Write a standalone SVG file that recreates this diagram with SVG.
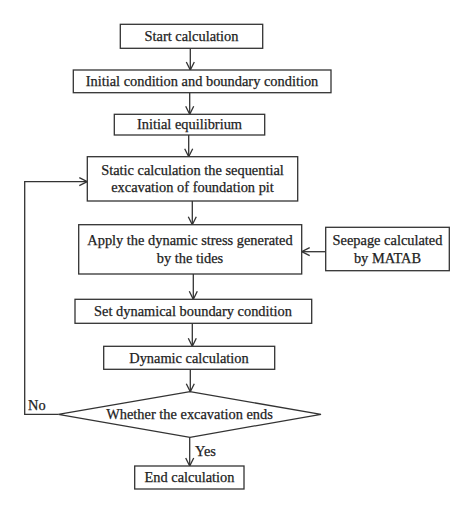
<svg xmlns="http://www.w3.org/2000/svg" width="474" height="514" viewBox="0 0 474 514">
<defs>
<style>
.b{fill:#fff;stroke:#333;stroke-width:1.3}
.t{font-family:"Liberation Serif","Times New Roman",serif;font-size:14.4px;fill:#222;stroke:#222;stroke-width:0.25;text-anchor:middle}
.l{font-family:"Liberation Serif","Times New Roman",serif;font-size:14.4px;fill:#222;stroke:#222;stroke-width:0.25}
.c{fill:none;stroke:#333;stroke-width:1.3}
</style>
<marker id="a" viewBox="0 0 10 10" refX="10" refY="5" markerWidth="10" markerHeight="10" markerUnits="userSpaceOnUse" orient="auto">
<polyline points="2,1 10,5 2,9" fill="none" stroke="#333" stroke-width="1.3"/>
</marker>
</defs>
<rect width="474" height="514" fill="#fff"/>
<g id="connectors">
<line class="c" x1="190.3" y1="48.3" x2="190.3" y2="70" marker-end="url(#a)"/>
<line class="c" x1="189.7" y1="92.7" x2="189.7" y2="114.3" marker-end="url(#a)"/>
<line class="c" x1="188.7" y1="135" x2="188.7" y2="156.7" marker-end="url(#a)"/>
<line class="c" x1="192.3" y1="201" x2="192.3" y2="224.7" marker-end="url(#a)"/>
<line class="c" x1="193.3" y1="274" x2="193.3" y2="299.3" marker-end="url(#a)"/>
<line class="c" x1="192.3" y1="323.3" x2="192.3" y2="346.3" marker-end="url(#a)"/>
<line class="c" x1="190.3" y1="369.3" x2="190.3" y2="391.7" marker-end="url(#a)"/>
<line class="c" x1="189.7" y1="437.3" x2="189.7" y2="466" marker-end="url(#a)"/>
<line class="c" x1="325.7" y1="251.7" x2="301.7" y2="251.7" marker-end="url(#a)"/>
<polyline class="c" points="58.3,414.3 24.7,414.3 24.7,181.7 87.3,181.7" marker-end="url(#a)"/>
<text class="l" x="28" y="410">No</text>
<text class="l" x="195" y="456">Yes</text>
</g>
<g id="start">
<rect class="b" x="120.3" y="24.3" width="142.4" height="24"/>
<text class="t" x="191.5" y="41">Start calculation</text>
</g>
<g id="initial-condition">
<rect class="b" x="73.3" y="70" width="257.7" height="22.7"/>
<text class="t" x="202" y="86">Initial condition and boundary condition</text>
</g>
<g id="initial-equilibrium">
<rect class="b" x="114.3" y="114.3" width="150.4" height="20.7"/>
<text class="t" x="189.5" y="129">Initial equilibrium</text>
</g>
<g id="static">
<rect class="b" x="87.3" y="156.7" width="210.4" height="44.3"/>
<text class="t" x="192.5" y="175">Static calculation the sequential</text>
<text class="t" x="192.5" y="192">excavation of foundation pit</text>
</g>
<g id="apply">
<rect class="b" x="78.7" y="224.7" width="223" height="49.3"/>
<text class="t" x="190" y="245">Apply the dynamic stress generated</text>
<text class="t" x="190" y="263">by the tides</text>
</g>
<g id="seepage">
<rect class="b" x="325.7" y="227.3" width="123.6" height="43.4"/>
<text class="t" x="387.5" y="245">Seepage calculated</text>
<text class="t" x="387.5" y="263">by MATAB</text>
</g>
<g id="set-boundary">
<rect class="b" x="75" y="299.3" width="236.7" height="24"/>
<text class="t" x="193" y="316">Set dynamical boundary condition</text>
</g>
<g id="dynamic">
<rect class="b" x="103.7" y="346.3" width="171" height="23"/>
<text class="t" x="189" y="362.5">Dynamic calculation</text>
</g>
<g id="decision">
<polygon class="b" points="58.3,414.3 190,391.7 321,414.3 190,437.3"/>
<text class="t" x="189.5" y="419">Whether the excavation ends</text>
</g>
<g id="end">
<rect class="b" x="134.7" y="466" width="109.3" height="23"/>
<text class="t" x="189.5" y="482">End calculation</text>
</g>
</svg>
